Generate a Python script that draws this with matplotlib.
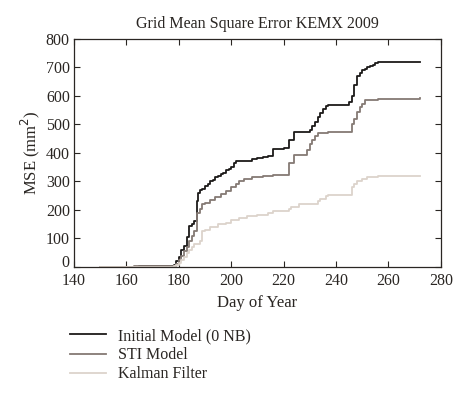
import matplotlib
matplotlib.use("Agg")
import matplotlib.pyplot as plt

# ---- data ----
init_days = [150, 165, 176, 178, 179, 180, 181, 182, 183, 184, 185, 186, 187, 187.5, 188, 189, 190, 191,
             192, 193, 194, 195, 196, 197, 198, 199, 200, 201, 202, 203, 205, 208, 210, 212, 214, 216,
             220, 222, 224, 230, 231, 232, 233, 234, 235, 236, 237, 245, 246, 247, 248, 249, 250, 251,
             252, 253, 254, 255, 256, 272]
init_mse = [0, 3, 5, 8, 20, 35, 60, 75, 105, 145, 150, 160, 230, 260, 270, 275, 285, 290,
            300, 305, 315, 320, 325, 330, 340, 345, 350, 365, 370, 372, 372, 378, 382, 386, 388, 415,
            418, 445, 475, 480, 495, 510, 525, 540, 555, 563, 568, 580, 600, 640, 670, 680, 690, 695,
            700, 705, 710, 715, 718, 720]

sti_days = [150, 163, 178, 179, 180, 181, 182, 183, 184, 185, 186, 187, 188, 189, 190, 192, 194, 196,
            198, 200, 202, 203, 205, 208, 212, 216, 222, 224, 229, 230, 231, 232, 233, 237, 246, 247,
            248, 249, 250, 251, 256, 272]
sti_mse = [0, 2, 5, 12, 25, 40, 55, 70, 90, 110, 125, 190, 205, 220, 225, 235, 245, 255,
           265, 280, 290, 300, 310, 315, 318, 322, 364, 393, 410, 430, 445, 460, 470, 475, 500, 520,
           545, 560, 570, 585, 590, 592]

kf_days = [150, 178, 179, 180, 181, 182, 183, 184, 185, 186, 188, 189, 190, 192, 195, 198, 200, 203,
           206, 210, 214, 216, 222, 223, 226, 233, 234, 236, 237, 246, 247, 248, 250, 252, 256, 272]
kf_mse = [0, 2, 8, 15, 25, 35, 50, 60, 70, 80, 90, 125, 130, 140, 150, 155, 165, 172,
          178, 183, 188, 195, 205, 212, 222, 230, 238, 250, 253, 280, 290, 300, 310, 316, 320, 320]

labels = ["Initial Model (0 NB)", "STI Model", "Kalman Filter"]
colors = ["#1c1a19", "#857a74", "#dcd3cb"]

plt.rcParams['font.family'] = ['Liberation Serif', 'DejaVu Serif']
txt = "#2a2623"

fig = plt.figure(figsize=(4.74, 3.97), dpi=100)
ax = fig.add_axes([0.156, 0.3275, 0.774, 0.5745])

for d, v, lab, c in zip([init_days, sti_days, kf_days], [init_mse, sti_mse, kf_mse], labels, colors):
    ax.plot(d, v, drawstyle='steps-post', color=c, lw=1.3, label=lab)

ax.set_xlim(140, 280)
ax.set_ylim(0, 800)
ax.set_xticks(range(140, 281, 20))
ax.set_yticks(range(0, 801, 100))
ax.tick_params(direction='in', top=True, right=True, length=4, width=0.8,
               labelsize=11.5, colors=txt)
ax.tick_params(axis='x', pad=4)
ax.tick_params(axis='y', pad=3)
ax.get_yticklabels()[0].set_verticalalignment('baseline')
for s in ax.spines.values():
    s.set_linewidth(0.9)
    s.set_color(txt)

ax.set_title("Grid Mean Square Error KEMX 2009", fontsize=11.5, color=txt, pad=8)
ax.set_xlabel("Day of Year", fontsize=12, color=txt, labelpad=5)
ax.set_ylabel("MSE (mm$^2$)", fontsize=12, color=txt, labelpad=3)

fig.legend(loc='upper left', bbox_to_anchor=(0.135, 0.19), frameon=False,
           fontsize=11.5, handlelength=2.2, labelspacing=0.2, labelcolor=txt,
           borderaxespad=0, handletextpad=0.8)

fig.savefig("out.png", dpi=100)
